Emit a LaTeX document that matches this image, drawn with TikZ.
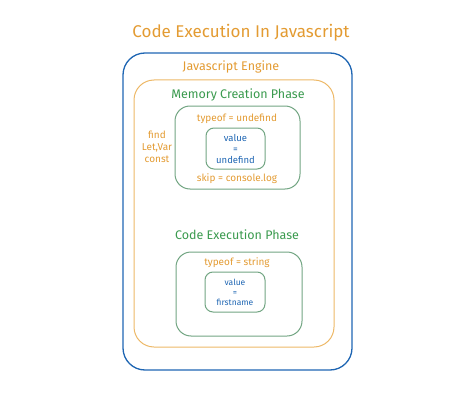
\documentclass[tikz,border=0pt]{standalone}
\usepackage{fontspec}
\setmainfont{Fira Sans}
\usepackage{tikz}
\usetikzlibrary{calc}

\definecolor{jsorange}{HTML}{E39B32}
\definecolor{jsyellow}{HTML}{EDB867}
\definecolor{jsgreen}{HTML}{3A9A4E}
\definecolor{jsbox}{HTML}{72A582}
\definecolor{jsblue}{HTML}{1F66B3}

\tikzset{
    frame/.style={draw, rounded corners=#1, line width=1pt, inner sep=0pt},
    label/.style={inner sep=0pt, font=\fontsize{10}{11}\selectfont},
}

\begin{document}
\begin{tikzpicture}[x=1pt, y=-1pt]
                    \useasboundingbox (0,0) rectangle (474,404);

                    % title
                    \node[label,jsorange,font=\fontsize{17}{19}\selectfont] (title) at (241, 33) {Code Execution In Javascript};

                    % engine
                    \node[frame=22pt,jsblue,line width=1.3pt,minimum width=229pt,minimum height=317pt] (engine) at (237.5, 211.5) {};
                    \node[label,jsorange,font=\fontsize{12.5}{14}\selectfont] (enginetitle) at (231, 67) {Javascript Engine};
                    \node[frame=20pt,jsyellow,minimum width=200pt,minimum height=267pt] (inner) at (234, 213.5) {};

                    % memory creation phase
                    \node[label,jsgreen,font=\fontsize{12.5}{14}\selectfont] (memtitle) at (238, 95) {Memory Creation Phase};
                    \node[frame=15pt,jsbox,minimum width=125pt,minimum height=83pt] (mem) at (237.5, 147.5) {};
                    \node[label,jsorange] (memtype) at (237, 119) {typeof = undefind};
                    \node[frame=8pt,jsbox,minimum width=59pt,minimum height=41pt] (memval) at (235.5, 148.5) {};
                    \node[label,jsblue,align=center,font=\fontsize{9.5}{11}\selectfont] (memvaltext) at (memval) {value\\=\\undefind};
                    \node[label,jsorange] (memskip) at (237, 179) {skip = console.log};
                    \node[label,jsorange,align=center,font=\fontsize{10}{12}\selectfont] (find) at (157, 147) {find\\Let,Var\\const};

                    % code execution phase
                    \node[label,jsgreen,font=\fontsize{12.5}{14}\selectfont] (exectitle) at (237, 235) {Code Execution Phase};
                    \node[frame=15pt,jsbox,minimum width=126pt,minimum height=84pt] (exec) at (239, 294) {};
                    \node[label,jsorange] (exectype) at (237, 263) {typeof = string};
                    \node[frame=8pt,jsbox,minimum width=60pt,minimum height=40pt] (execval) at (235, 292) {};
                    \node[label,jsblue,align=center,font=\fontsize{8.5}{10}\selectfont] (execvaltext) at (execval) {value\\=\\firstname};
                \end{tikzpicture}
\end{document}
